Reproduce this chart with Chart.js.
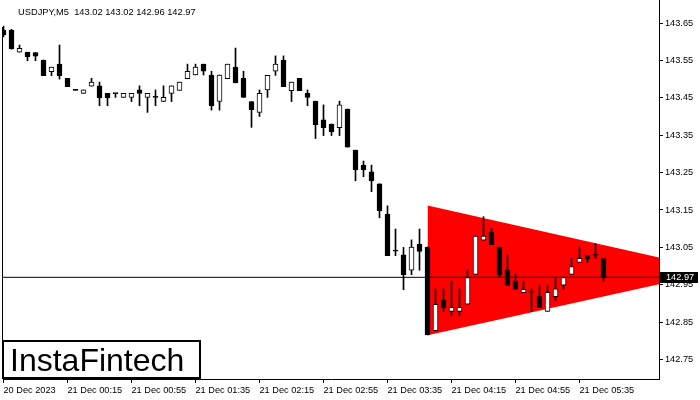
<!DOCTYPE html>
<html><head><meta charset="utf-8">
<script src="https://cdn.jsdelivr.net/npm/chart.js@4.4.1/dist/chart.umd.min.js"></script>
<style>html,body{margin:0;padding:0;background:#fff;}canvas{display:block;}</style>
</head><body>
<canvas id="c" width="700" height="400"></canvas>
<script>
const symbolTitle = 'USDJPY,M5  143.02 143.02 142.96 142.97';
const opens  = [143.631,143.631,143.572,143.572,143.571,143.551,143.520,143.540,143.502,143.470,
                143.462,143.481,143.482,143.462,143.461,143.451,143.451,143.471,143.451,143.451,
                143.440,143.462,143.470,143.501,143.511,143.540,143.511,143.440,143.501,143.532,
                143.502,143.440,143.411,143.471,143.521,143.551,143.469,143.502,143.462,143.441,
                143.391,143.380,143.370,143.420,143.310,143.270,143.252,143.220,143.139,143.040,
                143.030,142.989,143.059,143.051,142.827,142.909,142.879,142.879,142.898,142.978,
                143.069,143.090,143.051,142.990,142.960,142.929,142.930,142.920,142.879,142.918,
                142.949,142.978,143.010,143.029,143.029,143.020];
const highs  = [143.642,143.633,143.591,143.572,143.571,143.551,143.532,143.591,143.502,143.470,
                143.471,143.502,143.492,143.462,143.461,143.462,143.462,143.482,143.462,143.471,
                143.482,143.482,143.492,143.540,143.540,143.540,143.521,143.511,143.540,143.583,
                143.521,143.440,143.471,143.510,143.562,143.562,143.492,143.502,143.471,143.441,
                143.431,143.380,143.441,143.420,143.310,143.281,143.270,143.220,143.161,143.099,
                143.050,143.070,143.099,143.051,142.939,142.939,142.960,142.939,142.990,143.080,
                143.132,143.101,143.051,143.030,142.979,142.960,142.939,142.949,142.949,142.969,
                142.969,143.021,143.051,143.029,143.060,143.020];
const lows   = [143.613,143.580,143.572,143.549,143.549,143.509,143.509,143.500,143.480,143.470,
                143.462,143.481,143.429,143.429,143.451,143.451,143.440,143.429,143.411,143.429,
                143.440,143.440,143.470,143.501,143.511,143.511,143.417,143.417,143.501,143.490,
                143.451,143.371,143.400,143.451,143.510,143.480,143.440,143.469,143.429,143.341,
                143.349,143.349,143.349,143.318,143.228,143.239,143.199,143.129,143.028,143.028,
                142.937,142.977,142.989,142.816,142.827,142.878,142.867,142.867,142.898,142.978,
                143.069,143.057,142.970,142.948,142.938,142.929,142.878,142.889,142.879,142.908,
                142.938,142.978,143.010,143.009,143.020,142.960];
const closes = [143.618,143.581,143.582,143.560,143.561,143.509,143.532,143.509,143.480,143.470,
                143.471,143.492,143.450,143.450,143.461,143.462,143.462,143.462,143.462,143.451,
                143.451,143.482,143.492,143.521,143.532,143.521,143.429,143.511,143.540,143.490,
                143.451,143.418,143.462,143.510,143.540,143.480,143.492,143.469,143.451,143.378,
                143.370,143.359,143.431,143.318,143.257,143.257,143.228,143.148,143.028,143.040,
                142.977,143.051,143.039,142.816,142.898,142.889,142.890,142.890,142.969,143.080,
                143.080,143.057,142.976,142.948,142.938,142.938,142.930,142.889,142.930,142.939,
                142.969,142.999,143.021,143.020,143.029,142.970];
const tickIndex  = [0,8,16,24,32,40,48,56,64,72];
const tickLabels = ['20 Dec 2023','21 Dec 00:15','21 Dec 00:55','21 Dec 01:35','21 Dec 02:15',
                    '21 Dec 02:55','21 Dec 03:35','21 Dec 04:15','21 Dec 04:55','21 Dec 05:35'];
const yTicks = [142.75,142.85,142.95,143.05,143.15,143.25,143.35,143.45,143.55,143.65];
const triStart = 53, triEnd = 82;
const triUpper = [143.162, 143.023];
const triLower = [142.815, 142.952];
const lastPrice = 142.97;

Chart.defaults.font.family = "'Liberation Sans', Arial, sans-serif";
Chart.defaults.font.size = 9;
Chart.defaults.color = '#000';

const bodies = opens.map((o,i)=>({x:i, y:[o, closes[i]]}));
const bodyColors = opens.map((o,i)=> closes[i] > o ? '#ffffff' : '#000000');
const wicks = lows.map((l,i)=>({x:i, y:[l, highs[i]]}));

const zeroPad = s => { s.paddingLeft = 0; s.paddingRight = 0; s.paddingTop = 0; s.paddingBottom = 0; };

const overlay = {
  id:'overlay',
  afterDraw(chart){
    const ctx = chart.ctx, ys = chart.scales.y, ca = chart.chartArea;
    ctx.save();
    // left frame
    ctx.strokeStyle = '#000'; ctx.lineWidth = 1;
    ctx.beginPath(); ctx.moveTo(2.5, 27); ctx.lineTo(2.5, ca.bottom); ctx.stroke();
    // title
    ctx.fillStyle = '#000';
    ctx.font = "9.3px 'Liberation Sans', Arial, sans-serif";
    ctx.textBaseline = 'middle'; ctx.textAlign = 'left';
    ctx.fillText(symbolTitle, 18, 12);
    // price tag
    const py = ys.getPixelForValue(lastPrice);
    ctx.fillStyle = '#000';
    ctx.fillRect(660, Math.round(py) - 5, 38, 11);
    ctx.fillStyle = '#fff';
    ctx.font = "9.2px 'Liberation Sans', Arial, sans-serif";
    ctx.fillText(lastPrice.toFixed(2), 666, Math.round(py) + 0.5);
    // logo
    ctx.fillStyle = '#fff';
    ctx.fillRect(3, 341, 197, 37);
    ctx.strokeStyle = '#000'; ctx.lineWidth = 2;
    ctx.strokeRect(3, 341, 197, 37);
    ctx.fillStyle = '#000';
    ctx.font = "32px 'Liberation Sans', Arial, sans-serif";
    ctx.textBaseline = 'alphabetic';
    ctx.fillText('InstaFintech', 10, 371);
    ctx.restore();
  }
};

new Chart(document.getElementById('c'), {
  data: {
    datasets: [
      { type:'line', data:[{x:-1,y:lastPrice},{x:83,y:lastPrice}], borderColor:'#000', borderWidth:1,
        pointRadius:0, order:0 },
      { type:'bar', data:bodies, backgroundColor:bodyColors, borderColor:'#000', borderWidth:1,
        borderSkipped:false, barThickness:5, minBarLength:1, grouped:false, order:2 },
      { type:'bar', data:wicks, backgroundColor:'#000', borderWidth:0, borderSkipped:false,
        barThickness:1, minBarLength:1, grouped:false, order:3 },
      { type:'line', data:[{x:triStart,y:triUpper[0]},{x:triEnd,y:triUpper[1]}], borderWidth:0,
        borderColor:'rgba(0,0,0,0)', pointRadius:0, order:10 },
      { type:'line', data:[{x:triStart,y:triLower[0]},{x:triEnd,y:triLower[1]}], borderWidth:0,
        borderColor:'rgba(0,0,0,0)', pointRadius:0, fill:'-1', backgroundColor:'#ff0000', order:9 }
    ]
  },
  options: {
    responsive:false, animation:false, devicePixelRatio:1,
    layout:{padding:{left:3,top:0,right:0,bottom:0}},
    plugins:{legend:{display:false}, tooltip:{enabled:false}},
    scales:{
      x:{ type:'linear', position:'bottom', min:-0.0625, max:81.9375, offset:false,
          afterBuildTicks: s => { s.ticks = tickIndex.map(v=>({value:v})); },
          afterFit: s => { s.height = 21; zeroPad(s); },
          ticks:{ callback:(v,i)=>tickLabels[i], align:'start', maxRotation:0, minRotation:0,
                  autoSkip:false, padding:2, color:'#000', font:{size:9.2} },
          grid:{ offset:false, drawOnChartArea:false, drawTicks:true, tickLength:4, color:'#000' },
          border:{ display:true, color:'#000', width:1 } },
      y:{ type:'linear', position:'right', min:142.6981, max:143.7115,
          afterBuildTicks: s => { s.ticks = yTicks.map(v=>({value:v})); },
          afterFit: s => { s.width = 41; zeroPad(s); },
          ticks:{ callback:(v,i)=>yTicks[i].toFixed(2), padding:2, color:'#000', font:{size:9.2} },
          grid:{ drawOnChartArea:false, drawTicks:true, tickLength:4, color:'#000' },
          border:{ display:true, color:'#000', width:1 } }
    }
  },
  plugins:[overlay]
});
</script>
</body></html>
